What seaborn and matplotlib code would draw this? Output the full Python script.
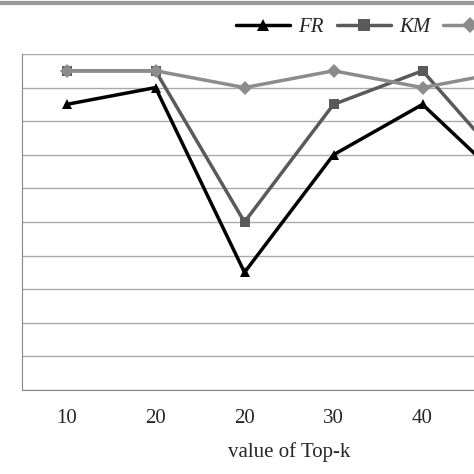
import pandas as pd
import seaborn as sns
import matplotlib.pyplot as plt
from matplotlib.lines import Line2D

# values (last column is cut off in the reference)
topk = ["10", "20", "20", "30", "40", ""]
fr = [8.5, 9.0, 3.5, 7.0, 8.5, 6.0]
km = [9.5, 9.5, 5.0, 8.5, 9.5, 6.5]
third = [9.5, 9.5, 9.0, 9.5, 9.0, 9.5]

df = pd.DataFrame({"pos": range(len(topk)), "FR": fr, "KM": km, "HR": third})
long = df.melt(id_vars="pos", var_name="method", value_name="value")

sns.set_style("white")
plt.rcParams["font.family"] = ["Liberation Serif", "DejaVu Serif"]

fig = plt.figure(figsize=(4.74, 4.74), dpi=100)
ax = fig.add_axes([22 / 474, 84 / 474, 534 / 474, 336 / 474])

palette = {"FR": "#000000", "KM": "#5a5a5a", "HR": "#8c8c8c"}
markers = {"FR": "^", "KM": "s", "HR": "D"}
sns.lineplot(data=long, x="pos", y="value", hue="method", style="method",
             palette=palette, markers=markers, dashes=False, linewidth=2.5,
             markersize=7, markeredgewidth=0, legend=False, ax=ax)

ax.set_xlim(-0.5, len(topk) - 0.5)
ax.set_ylim(0, 10)
ax.set_yticks(range(0, 11))
ax.set_yticklabels([])
ax.tick_params(axis="y", length=0)
ax.grid(axis="y", color="#aaaaaa", linewidth=1)
ax.set_xticks(range(len(topk)))
ax.set_xticklabels(topk, fontsize=15)
ax.set_xticks([i + 0.5 for i in range(len(topk) - 1)], minor=True)
ax.tick_params(axis="x", which="major", length=0, pad=14)
ax.tick_params(axis="x", which="minor", length=6, direction="in", color="#888888")
ax.set_xlabel("value of Top-k", fontsize=15, labelpad=10)
ax.set_ylabel("")
for side in ["top", "right"]:
    ax.spines[side].set_visible(False)
for side in ["left", "bottom"]:
    ax.spines[side].set_color("#888888")

handles = [Line2D([], [], color=palette[m], marker=markers[m], linewidth=2.5,
                  markersize=8, markeredgewidth=0) for m in ["FR", "KM", "HR"]]
fig.legend(handles, ["FR", "KM", ""], loc="center left",
           bbox_to_anchor=(236 / 474, 1 - 27 / 474), ncol=3, frameon=False,
           prop={"style": "italic", "size": 15}, handlelength=2.6,
           columnspacing=0.6, handletextpad=0.4, borderpad=0, borderaxespad=0)

fig.add_artist(Line2D([0, 1], [1 - 3 / 474, 1 - 3 / 474], color="#999999", linewidth=3))

fig.savefig("out.png", dpi=100)
